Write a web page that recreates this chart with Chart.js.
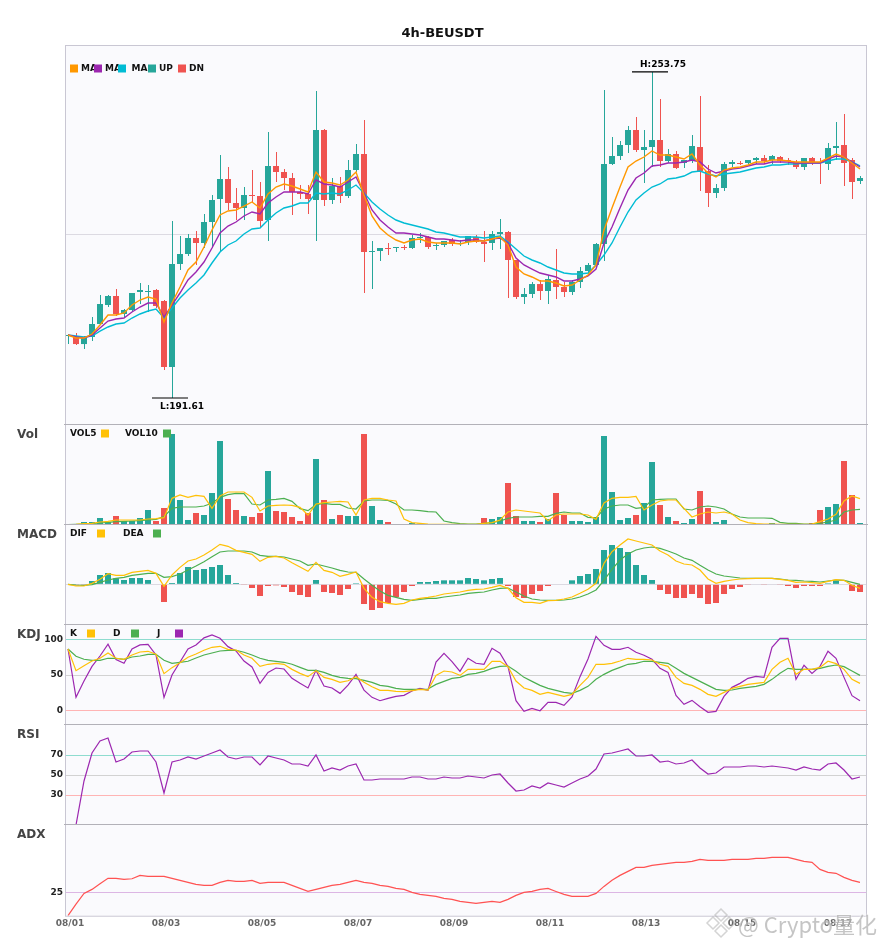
<!DOCTYPE html>
<html>
<head>
<meta charset="utf-8">
<title>4h-BEUSDT</title>
<script src="https://cdn.jsdelivr.net/npm/chart.js@4"></script>
<style>
html,body{margin:0;padding:0;background:#fff;overflow:hidden}
canvas{display:block}
</style>
</head>
<body>
<canvas id="c" width="885" height="950" style="width:885px;height:950px"></canvas>
<script>
const titleText = "4h-BEUSDT";
const dateLabels = ["08/01","08/03","08/05","08/07","08/09","08/11","08/13","08/15","08/17"];
const highLabel = "H:253.75";
const lowLabel = "L:191.61";
const highIndex = 73;
const lowIndex = 13;
const midPrice = 222.68;

const opens = [203.42,203.42,201.89,203.23,205.71,209.33,211.05,207.62,208.38,211.81,
211.81,212.19,210.09,197.51,217.15,219.05,222.10,221.15,225.15,229.54,
233.35,228.77,227.82,230.30,230.11,225.53,235.83,234.68,233.54,230.87,
230.49,229.35,242.69,229.35,232.01,230.11,235.06,238.11,219.43,219.62,
220.20,220.20,220.39,220.20,222.10,222.29,220.58,220.77,221.72,220.96,
221.34,222.29,221.34,221.15,222.87,223.25,217.91,210.86,211.43,213.33,
212.00,214.10,212.76,211.81,213.72,215.81,216.96,220.96,236.21,237.73,
239.83,242.69,238.88,239.45,240.78,236.78,238.11,236.40,236.97,239.45,
234.87,230.68,231.63,236.21,236.40,236.40,236.97,237.35,236.97,237.54,
236.97,236.59,235.64,237.35,236.59,236.21,239.26,239.83,236.97,232.97];
const closes = [203.61,201.89,203.23,205.71,209.52,211.05,207.62,208.38,211.62,212.19,
212.00,209.14,197.51,217.15,219.05,222.10,221.15,225.15,229.35,233.35,
228.77,227.82,230.30,230.11,225.34,235.83,234.68,233.54,230.87,230.49,
229.54,242.69,229.35,232.01,230.11,235.06,238.11,219.43,219.62,220.20,
220.01,220.39,220.20,222.10,222.29,220.39,220.77,221.53,220.96,221.15,
222.48,221.34,220.96,222.87,223.25,217.91,210.86,211.43,213.33,212.00,
214.29,212.76,211.81,213.72,215.81,216.96,220.96,236.21,237.73,239.83,
242.69,238.88,239.45,240.78,236.78,238.11,235.45,236.97,239.64,234.87,
230.68,231.63,236.21,236.59,236.21,236.97,237.35,236.78,237.73,236.78,
236.78,235.64,237.35,236.59,236.40,239.26,239.64,236.40,232.78,233.54];
const highs = [203.80,203.99,203.42,207.04,211.24,211.24,212.38,208.57,211.62,213.52,
213.14,212.38,210.28,225.34,222.48,222.87,223.44,226.68,230.30,237.92,
235.64,231.63,231.82,235.06,232.78,242.31,238.50,235.25,234.49,232.20,
232.20,250.12,242.88,233.54,233.73,236.97,240.02,244.60,221.53,220.20,
221.15,220.39,220.77,222.67,223.06,222.48,221.15,221.53,222.10,221.72,
222.48,222.67,223.44,223.44,225.72,223.44,217.91,212.57,213.72,214.10,
215.05,220.01,213.72,214.10,216.57,217.34,221.15,250.31,241.36,240.59,
243.45,245.17,242.69,253.75,248.60,239.07,238.69,236.97,241.74,249.17,
236.02,232.40,236.59,236.97,236.78,236.97,237.54,237.92,237.92,237.73,
237.35,236.97,237.35,237.54,237.35,240.21,244.21,245.74,237.35,233.92];
const lows = [201.89,201.70,200.94,202.47,205.71,208.95,207.23,206.85,208.00,209.52,
208.00,208.76,196.94,191.61,216.00,218.67,216.96,220.20,220.20,219.62,
227.44,225.53,225.53,228.77,224.01,221.53,232.78,231.25,226.49,229.54,
226.68,221.53,228.20,228.58,228.77,229.73,234.68,211.62,212.38,217.72,
218.86,219.43,219.82,220.01,221.15,220.01,219.82,220.39,220.58,220.58,
220.77,221.15,217.53,219.82,220.01,210.67,210.47,209.52,210.67,210.28,
209.52,210.47,210.86,211.24,212.57,215.05,216.77,217.72,236.02,236.97,
238.31,238.50,232.59,235.64,235.64,236.40,235.25,235.45,236.40,231.06,
228.01,229.73,231.06,235.64,236.02,236.02,236.21,236.21,236.21,236.40,
236.02,235.25,235.06,236.02,232.40,235.06,236.97,232.01,229.54,232.40];
const ma5 = [203.61,203.04,203.04,203.80,205.52,207.42,207.42,207.81,209.33,210.28,
210.86,210.47,206.09,209.71,212.76,216.00,217.53,220.39,223.63,226.49,
227.25,227.44,228.20,228.97,227.82,230.49,231.82,232.40,232.01,231.44,
230.87,234.68,232.78,232.59,232.20,233.16,234.68,230.30,226.30,224.01,
222.67,221.72,221.15,221.72,221.91,221.34,221.15,221.15,221.15,220.96,
221.34,221.53,221.53,221.91,222.29,220.77,216.57,215.24,214.67,213.91,
213.91,213.52,212.95,213.14,214.10,215.05,216.96,223.63,227.82,231.82,
235.64,236.78,237.54,238.69,237.92,237.92,237.54,237.16,238.11,236.02,
234.49,233.73,235.06,235.45,235.64,236.02,236.59,236.59,236.97,236.97,
236.78,236.59,236.59,236.59,236.59,237.35,238.11,237.54,236.40,235.25];
const ma10 = [203.61,203.23,203.04,203.61,204.95,206.28,206.66,206.85,208.00,208.95,
209.71,209.71,207.04,209.33,211.62,214.10,215.62,217.53,220.20,223.06,
224.39,225.15,226.30,227.06,226.68,228.77,229.92,230.87,230.87,230.87,
230.49,233.16,232.40,232.20,231.82,232.78,233.73,230.68,227.44,225.53,
224.20,223.06,223.06,222.87,222.67,222.29,221.91,221.91,221.72,221.53,
221.72,221.72,221.53,221.91,222.10,221.15,218.29,216.96,216.19,215.43,
215.05,214.67,213.91,213.91,214.29,214.86,216.19,221.15,224.20,227.82,
231.25,233.54,234.49,235.83,236.02,236.40,236.40,236.59,236.97,236.59,
235.25,234.49,234.87,235.25,235.45,235.83,236.21,236.21,236.59,236.59,
236.59,236.40,236.40,236.40,236.40,237.16,237.73,237.54,236.59,235.64];
const ma20 = [203.61,203.42,203.23,203.42,204.37,205.14,205.71,205.90,206.85,207.62,
208.19,208.57,206.85,208.76,210.67,212.19,213.52,215.05,217.34,219.43,
220.77,221.53,222.87,223.82,224.01,225.53,226.87,227.82,228.20,228.77,
228.77,230.68,230.49,230.68,230.49,231.25,232.20,230.68,228.97,227.63,
226.49,225.53,224.96,224.58,224.20,223.82,223.25,223.06,222.67,222.29,
222.29,222.29,222.10,222.29,222.48,221.34,220.01,218.67,217.91,217.34,
216.57,216.00,215.43,215.24,215.24,215.43,216.96,218.86,221.15,224.20,
227.06,229.35,230.68,231.82,232.40,233.35,233.54,233.92,234.68,234.87,
234.30,233.92,234.30,234.49,234.68,235.06,235.45,235.64,236.02,236.02,
236.21,236.21,236.40,236.40,236.40,236.78,237.16,237.16,236.59,235.83];
const volume = [0,1,8,8,20,8,26,11,11,20,
44,11,50,272,74,14,35,29,95,251,
77,44,26,23,35,161,41,38,23,11,
35,197,74,17,29,26,26,272,56,14,
8,2,2,5,3,1,1,1,1,1,
1,1,20,17,23,125,26,11,11,8,
17,95,29,11,11,8,23,266,98,14,
20,29,65,188,59,23,11,5,17,101,
50,8,14,2,2,2,2,1,5,1,
1,1,1,5,44,53,62,191,89,5];
const vol5 = [0,1,3,4,8,10,14,14,14,14,
17,18,21,79,89,82,88,85,49,86,
98,98,98,82,41,56,58,59,58,52,
29,62,66,68,70,68,29,74,79,79,
74,71,17,6,4,2,1,1,1,1,
1,1,4,6,14,38,44,41,38,35,
12,29,32,32,32,29,16,65,79,82,
82,85,44,59,71,74,74,49,23,32,
38,35,38,32,14,6,3,2,2,1,
1,1,1,2,9,17,31,71,86,78];
const vol10 = [0,1,2,3,5,7,9,10,11,12,
14,16,24,49,53,53,53,56,64,82,
90,94,93,62,59,74,76,79,70,48,
42,60,64,61,61,50,47,71,74,74,
73,62,44,44,42,39,38,11,6,3,
2,2,4,6,11,19,23,23,23,25,
25,34,38,35,35,22,20,47,56,59,
59,49,52,74,76,77,77,47,44,53,
56,53,47,32,23,20,20,20,19,7,
4,4,2,2,4,8,14,38,44,46];
const macdHist = [0,-3,-3,10,28,34,18,13,19,19,
13,0,-53,4,34,52,43,46,52,58,
28,4,-2,-11,-35,-5,-3,-8,-23,-32,
-38,13,-23,-26,-32,-14,3,-59,-77,-71,
-56,-38,-23,-5,7,7,10,12,12,12,
19,16,12,16,19,-5,-38,-41,-29,-20,
-5,0,0,12,25,31,46,103,118,109,
97,58,28,13,-17,-29,-41,-41,-29,-41,
-59,-56,-29,-14,-8,-2,0,-2,0,-2,
-5,-11,-5,-5,-5,3,10,0,-20,-23];
const dif = [0,-5,-5,3,15,32,27,27,36,39,
42,33,-6,28,51,70,76,88,103,120,
114,102,96,90,69,81,84,79,65,52,
39,66,42,36,24,30,37,-12,-39,-52,
-57,-60,-57,-47,-42,-39,-35,-29,-26,-23,
-18,-15,-14,-9,-3,-12,-40,-54,-54,-57,
-49,-48,-44,-38,-27,-15,3,63,98,118,
136,130,124,118,100,88,70,61,58,43,
16,3,9,13,16,17,18,18,18,15,
12,6,7,5,3,9,14,12,-3,-12];
const dea = [0,-2,-3,-1,6,13,18,21,27,30,
33,33,21,23,31,43,55,68,83,97,
100,100,100,97,87,84,84,82,76,70,
57,61,55,49,42,37,36,16,-3,-20,
-33,-39,-45,-48,-45,-42,-42,-38,-35,-32,
-27,-25,-23,-17,-12,-11,-23,-35,-44,-47,
-48,-48,-47,-44,-38,-29,-17,12,45,73,
91,103,109,112,108,100,91,79,72,57,
43,31,25,22,19,18,18,18,18,16,
13,12,10,9,7,10,13,12,6,0];
const kdjK = [86.4,56.1,63.1,69.6,73.4,80.8,73.4,72,78,82.2,
83.2,79,51.9,60.3,67.3,74.8,79.4,84.6,88.8,90.2,
86,85,78,73.4,62.1,65,66.4,65,57.9,52.3,
47.7,56.1,46.7,43.9,39.7,42,47.7,39.7,33.6,28.5,
28.5,27.1,26.6,28,29.9,29,49.5,55.6,54.2,49.5,
57.9,57.9,57.9,69.2,69.2,61.7,41.6,31.8,28.5,22.9,
25.7,22.9,20.1,22.9,35.5,46.7,65,65,66.4,69.6,
73.4,72,72,71,65,62.1,46.7,38.3,35.5,29.9,
22.9,20.1,25.7,31.3,34.1,36.9,38.3,39.7,57.9,67.8,
73.4,50.9,57.9,57.9,60.7,69.2,65.9,57.9,43.9,38.3];
const kdjD = [86.4,76.2,72,70.6,70.6,73.4,73.4,72,75.2,76.6,
78.9,78.9,70.6,66.4,67.8,69.2,73.8,78,80.8,83.6,
84.6,84.6,81.8,78,73.4,70.6,69.2,67.8,65,60.7,
56.5,56.5,53.7,49.5,46.7,45.3,44.9,42.5,39.7,35.5,
34.1,31.3,29.9,29.9,29.9,30.4,36.9,41.1,45.3,46.7,
50.9,52.3,55.1,59.3,62.1,62.6,55.1,46.7,41.1,35.5,
31.3,28.5,25.7,24.3,28.5,34.1,43.9,50.9,56.5,60.7,
65,66.4,69.2,69.2,67.8,66.4,59.3,52.3,46.7,41.1,
35.5,29.9,28.5,29,31.3,32.7,34.1,36.9,43.9,52.3,
59.3,57.9,57.9,57.9,59.3,62.1,64,61.7,55.6,49.5];
const kdjJ = [86.4,18.7,41.6,62.1,76.6,93,71.5,66.4,86.4,92.1,
93,78,18.7,50,68.2,86.4,92.1,102,106,101.4,
89.7,83.6,69.6,61.2,38.3,53.7,59.8,58.4,45.3,38.3,
31.8,56.5,34.6,31.8,24.3,35.9,50.9,28.9,18.7,14,
17.3,20.1,21.5,27.6,31.3,28.5,68.2,80.4,68.7,55.1,
73.4,66.4,65,87.4,80.4,61.7,14,-0.9,3.3,0,
11.7,11.7,7.5,19.2,47.7,72.4,104.2,91.6,86,86,
88.8,81.8,77.6,72,59.3,53.7,21.5,8.9,14.5,5.6,
-2.3,-0.9,20.1,32.7,38.3,45.3,48.1,46.7,88.8,101.4,
101.4,43.9,63.6,52.3,62.1,83.2,73.4,46.7,21,14];
const rsi = [null,0,44,72,84,87,63,66,73,74,
74,63,32,63,65,68,66,69,72,75,
68,66,68,68,60,69,67,65,61,61,
59,70,54,57,55,59,61,45,45,46,
46,46,46,48,48,46,46,48,47,47,
49,48,47,50,51,42,34,35,39,37,
42,40,38,42,46,49,56,71,72,74,
76,69,69,70,63,64,61,62,65,57,
51,52,58,58,58,59,59,58,59,58,
57,55,58,56,55,61,62,55,46,48];
const adx = [0,12.5,23.9,28.2,34.3,40,40,38.9,39.6,43.2,
42.1,42.1,42.1,40,37.9,35.7,33.6,32.5,32.5,35.7,
37.9,36.8,36.8,37.9,34.6,35.7,35.7,35.7,32.5,29.3,
26.1,28.2,30.4,32.5,33.6,35.7,37.9,35.7,34.6,32.5,
31.4,29.3,28.2,25,22.9,21.8,20.7,18.6,17.5,15.4,
14.3,13.2,14.3,15.4,14.3,17.5,21.8,25,26.1,28.2,
29.3,26,22.9,20.7,20.7,20.7,23.9,31.4,37.9,43.2,
47.5,51.8,51.8,53.9,55,56.1,57.1,57.1,58.2,60.4,
59.3,59.3,59.3,60.4,60.4,60.4,61.4,61.4,62.5,62.5,
62.5,60.4,58.2,57.1,49.6,46.4,45.4,41.1,37.9,35.7];

const UP = "#26a69a", DN = "#ef5350", ORANGE = "#ff9800", PURPLE = "#9c27b0", CYAN = "#00bcd4", YELLOW = "#ffc107", GREEN = "#4caf50", ADXRED = "#ff5252";
const candleColors = closes.map((c, i) => c >= opens[i] ? UP : DN);
const macdColors = macdHist.map(v => v >= 0 ? UP : DN);
const WICK_SHIFT = 0.0625;
const FONT = '"DejaVu Sans"';

const xy = vals => vals.map((v, i) => ({x: i, y: v}));
const line = (vals, color, axis, w) => ({type: "line", data: xy(vals), yAxisID: axis, borderColor: color, borderWidth: w || 1.2, pointRadius: 0, tension: 0, order: 0, spanGaps: false});
const bar = (data, colors, axis, thick) => ({type: "bar", data, yAxisID: axis, backgroundColor: colors, barThickness: thick, order: 1, inflateAmount: 0, grouped: false, borderWidth: 0});

const datasets = [
  line(ma5, ORANGE, "yMain", 1.4), line(ma10, PURPLE, "yMain", 1.4), line(ma20, CYAN, "yMain", 1.4),
  bar(opens.map((o, i) => ({x: i + WICK_SHIFT, y: [lows[i], highs[i]]})), candleColors, "yMain", 1),
  bar(opens.map((o, i) => ({x: i, y: [Math.min(o, closes[i]), Math.max(o, closes[i])]})), candleColors, "yMain", 6),
  line(vol5, YELLOW, "yVol"), line(vol10, GREEN, "yVol"),
  bar(xy(volume), candleColors, "yVol", 6),
  line(dif, YELLOW, "yMacd"), line(dea, GREEN, "yMacd"),
  bar(xy(macdHist), macdColors, "yMacd", 6),
  line(kdjK, YELLOW, "yKdj"), line(kdjD, GREEN, "yKdj"), line(kdjJ, PURPLE, "yKdj"),
  line(rsi, PURPLE, "yRsi"),
  line(adx, ADXRED, "yAdx")
];

function panelScale(opts) {
  return {
    position: "left", stack: "panels", stackWeight: opts.h, weight: opts.w,
    min: opts.min, max: opts.max, offset: false,
    border: {display: false},
    afterFit: s => { s.width = 66; },
    afterBuildTicks: s => { s.ticks = opts.lines.map(l => ({value: l.v})); },
    grid: {drawTicks: false, lineWidth: 1, color: c => { const l = opts.lines.find(l => l.v === c.tick.value); return l ? l.c : "transparent"; }},
    ticks: {padding: 3, autoSkip: false, color: "#222", font: {family: FONT, size: 9, weight: "bold"}, callback: v => opts.labels ? String(v) : ""}
  };
}
const G = "#dcdae2", TEAL = "#8edccf", PINK = "#ffb4b4", MAUVE = "#dcb6e4", GR2 = "#d2d2d2";

const legends = [
  {y: 69, items: [["MA", 81, 70, ORANGE], ["MA", 105, 94, PURPLE], ["MA", 131.5, 118, CYAN], ["UP", 159, 148, UP], ["DN", 189, 178, DN]]},
  {y: 434, items: [["VOL5", 70, 101, YELLOW], ["VOL10", 125, 163, GREEN]]},
  {y: 534, items: [["DIF", 70, 97, YELLOW], ["DEA", 123, 153, GREEN]]},
  {y: 634, items: [["K", 70, 87, YELLOW], ["D", 113, 131, GREEN], ["J", 157, 175, PURPLE]]}
];
const panelTitles = [["Vol", "yVol"], ["MACD", "yMacd"], ["KDJ", "yKdj"], ["RSI", "yRsi"], ["ADX", "yAdx"]];
const panelIds = ["yMain", "yVol", "yMacd", "yKdj", "yRsi", "yAdx"];
const watermark = "@ Crypto量化";

const decor = {
  id: "decor",
  beforeDraw(ch) {
    const c = ch.ctx, a = ch.chartArea;
    c.save(); c.fillStyle = "#fafafd";
    c.fillRect(a.left, a.top, a.right - a.left, a.bottom - a.top);
    c.restore();
  },
  afterDraw(ch) {
    const c = ch.ctx, a = ch.chartArea;
    c.save();
    c.lineWidth = 1;
    c.strokeStyle = "#c9c7d3";
    c.strokeRect(a.left - 0.5, a.top + 0.5, a.right - a.left + 1, a.bottom - a.top);
    c.strokeStyle = "#b2b1b8";
    panelIds.slice(1).forEach(id => {
      const y = Math.round(ch.scales[id].top) - 0.5;
      c.beginPath(); c.moveTo(a.left - 2, y); c.lineTo(a.right + 2, y); c.stroke();
    });
    c.textBaseline = "middle"; c.textAlign = "left";
    c.font = "bold 9px " + FONT;
    legends.forEach(g => {
      g.items.forEach(it => { c.fillStyle = "#111"; c.fillText(it[0], it[1], g.y); });
      g.items.forEach(it => { c.fillStyle = it[3]; c.fillRect(it[2], g.y - 4.5, 8, 8); });
    });
    c.fillStyle = "#444"; c.font = "bold 12px " + FONT;
    panelTitles.forEach(t => c.fillText(t[0], 17, ch.scales[t[1]].top + 10));
    const xS = ch.scales.x, yS = ch.scales.yMain;
    c.strokeStyle = "#000"; c.lineWidth = 1.2; c.fillStyle = "#000"; c.textAlign = "center"; c.font = "bold 9px " + FONT;
    const hx = xS.getPixelForValue(highIndex), hy = yS.getPixelForValue(highs[highIndex]);
    c.beginPath(); c.moveTo(hx - 20, hy); c.lineTo(hx + 16, hy); c.stroke();
    c.fillText(highLabel, hx + 11, hy - 7);
    const lx = xS.getPixelForValue(lowIndex), ly = yS.getPixelForValue(lows[lowIndex]);
    c.beginPath(); c.moveTo(lx - 20, ly); c.lineTo(lx + 16, ly); c.stroke();
    c.fillText(lowLabel, lx + 10, ly + 9);
    c.globalAlpha = 0.5;
    c.strokeStyle = "#aaa"; c.lineWidth = 1.5;
    [[713, 923], [729, 923], [721, 915], [721, 931]].forEach(p => {
      c.beginPath(); c.moveTo(p[0] - 6, p[1]); c.lineTo(p[0], p[1] - 6); c.lineTo(p[0] + 6, p[1]); c.lineTo(p[0], p[1] + 6); c.closePath(); c.stroke();
    });
    c.textAlign = "left"; c.font = '22px "Noto Sans CJK SC"';
    c.globalAlpha = 0.35;
    c.strokeStyle = "#fff"; c.lineWidth = 2; c.strokeText(watermark, 738, 925);
    c.globalAlpha = 0.7;
    c.fillStyle = "#adadad"; c.fillText(watermark, 738, 925);
    c.restore();
  }
};

new Chart(document.getElementById("c"), {
  data: {datasets},
  plugins: [decor],
  options: {
    responsive: false, animation: false, events: [],
    layout: {padding: 0},
    plugins: {
      legend: {display: false}, tooltip: {enabled: false},
      title: {display: true, text: titleText, color: "#111", font: {family: FONT, size: 13, weight: "bold"}, padding: {top: 26.2, bottom: 3.2}}
    },
    scales: {
      x: {
        type: "linear", position: "bottom", min: -0.25, max: 99.75, offset: false,
        border: {display: false},
        grid: {display: false, drawTicks: false},
        afterBuildTicks: s => { s.ticks = dateLabels.map((d, i) => ({value: i * 12 + 0.25})); },
        afterFit: s => { s.height = 34.3; },
        ticks: {padding: 3, maxRotation: 0, autoSkip: false, color: "#666", font: {family: FONT, size: 9, weight: "bold"}, callback: v => dateLabels[Math.floor(v / 12)]}
      },
      yMargin: {
        type: "linear", position: "right", min: 0, max: 1,
        border: {display: false}, grid: {display: false, drawTicks: false},
        ticks: {display: false}, afterFit: s => { s.width = 19; }
      },
      yMain: panelScale({h: 380, w: 6, min: 186.46, max: 258.89, labels: false, lines: [{v: midPrice, c: G}]}),
      yVol: panelScale({h: 100, w: 5, min: -1, max: 299, labels: false, lines: []}),
      yMacd: panelScale({h: 100, w: 4, min: -122, max: 178, labels: false, lines: [{v: 0, c: G}]}),
      yKdj: panelScale({h: 100, w: 3, min: -20, max: 120, labels: true, lines: [{v: 0, c: PINK}, {v: 50, c: GR2}, {v: 100, c: TEAL}]}),
      yRsi: panelScale({h: 100, w: 2, min: 0, max: 100, labels: true, lines: [{v: 30, c: PINK}, {v: 50, c: GR2}, {v: 70, c: TEAL}]}),
      yAdx: panelScale({h: 90.7, w: 1, min: 0, max: 97.2, labels: true, lines: [{v: 25, c: MAUVE}]})
    }
  }
});
</script>
</body>
</html>
